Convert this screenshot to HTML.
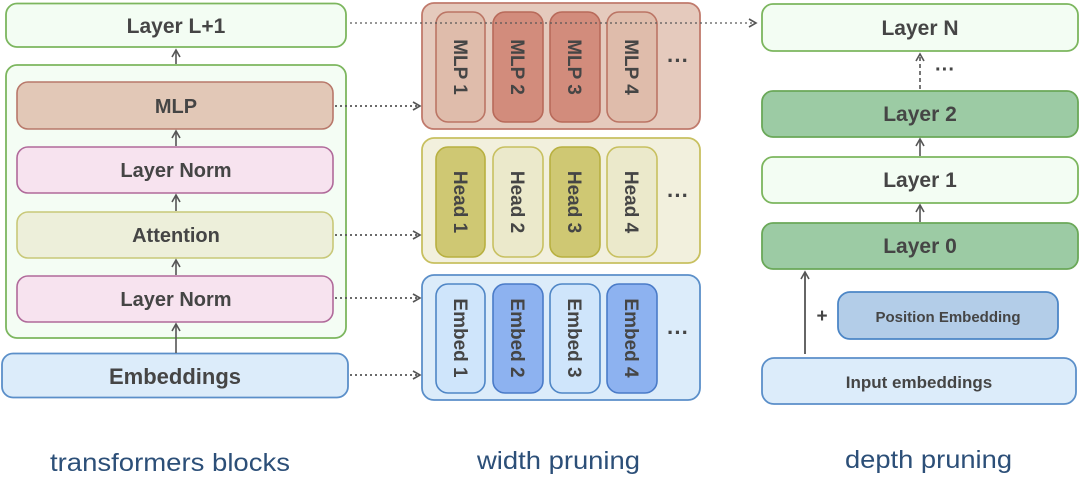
<!DOCTYPE html>
<html><head><meta charset="utf-8"><style>
html,body{margin:0;padding:0;background:#fff;}
svg{display:block;}
text{font-family:"Liberation Sans",Arial,sans-serif;font-weight:bold;fill:#454545;}
.lbl{font-weight:normal;fill:#2c4f78;font-size:25px;}
</style></head><body>
<svg width="1080" height="481" viewBox="0 0 1080 481" xmlns="http://www.w3.org/2000/svg">
<defs>
<marker id="a" markerWidth="10" markerHeight="10" refX="8" refY="5" orient="auto" markerUnits="userSpaceOnUse">
<path d="M1,1 L8,5 L1,9" fill="none" stroke="#555" stroke-width="1.6"/></marker>
</defs>
<!-- LEFT -->
<rect x="6" y="3.5" width="340" height="43.5" rx="11" fill="#f3fdf3" stroke="#7cb65e" stroke-width="1.8"/>
<text x="176" y="33" font-size="21" text-anchor="middle">Layer L+1</text>
<rect x="6" y="65" width="340" height="273" rx="11" fill="#f4fdf4" stroke="#7cb65e" stroke-width="1.8"/>
<rect x="17" y="82" width="316" height="47" rx="11" fill="#e2c8b7" stroke="#b8786a" stroke-width="1.6"/>
<text x="176" y="113" font-size="20" text-anchor="middle">MLP</text>
<rect x="17" y="147" width="316" height="46" rx="11" fill="#f7e3ef" stroke="#b06a9a" stroke-width="1.6"/>
<text x="176" y="177" font-size="20" text-anchor="middle">Layer Norm</text>
<rect x="17" y="212" width="316" height="46" rx="11" fill="#edefda" stroke="#c8c878" stroke-width="1.6"/>
<text x="176" y="242" font-size="20" text-anchor="middle">Attention</text>
<rect x="17" y="276" width="316" height="46" rx="11" fill="#f7e3ef" stroke="#b06a9a" stroke-width="1.6"/>
<text x="176" y="306" font-size="20" text-anchor="middle">Layer Norm</text>
<rect x="2" y="353.5" width="346" height="44" rx="11" fill="#dcecfa" stroke="#5b8fc9" stroke-width="1.8"/>
<text x="175" y="384" font-size="22" text-anchor="middle">Embeddings</text>
<g stroke="#555" stroke-width="1.6" fill="none">
<line x1="176" y1="64" x2="176" y2="50" marker-end="url(#a)"/>
<line x1="176" y1="146" x2="176" y2="131" marker-end="url(#a)"/>
<line x1="176" y1="211" x2="176" y2="195" marker-end="url(#a)"/>
<line x1="176" y1="275" x2="176" y2="260" marker-end="url(#a)"/>
<line x1="176" y1="353" x2="176" y2="324" marker-end="url(#a)"/>
</g>
<!-- MIDDLE -->
<rect x="422" y="3" width="278" height="126" rx="12" fill="#e5cabd" stroke="#c07a6c" stroke-width="1.8"/>
<rect x="436" y="12" width="49" height="110" rx="12" fill="#dfbcab" stroke="#bb7565" stroke-width="1.6"/>
<rect x="493" y="12" width="50" height="110" rx="12" fill="#d28c7c" stroke="#b86a5a" stroke-width="1.6"/>
<rect x="550" y="12" width="50" height="110" rx="12" fill="#d28c7c" stroke="#b86a5a" stroke-width="1.6"/>
<rect x="607" y="12" width="50" height="110" rx="12" fill="#dfbcab" stroke="#bb7565" stroke-width="1.6"/>
<rect x="422" y="138" width="278" height="125" rx="12" fill="#f2f0dd" stroke="#c8c060" stroke-width="1.8"/>
<rect x="436" y="147" width="49" height="110" rx="12" fill="#cfc873" stroke="#b8b040" stroke-width="1.6"/>
<rect x="493" y="147" width="50" height="110" rx="12" fill="#ebe9cb" stroke="#c8c060" stroke-width="1.6"/>
<rect x="550" y="147" width="50" height="110" rx="12" fill="#cfc873" stroke="#b8b040" stroke-width="1.6"/>
<rect x="607" y="147" width="50" height="110" rx="12" fill="#ebe9cb" stroke="#c8c060" stroke-width="1.6"/>
<rect x="422" y="275" width="278" height="125" rx="12" fill="#dcecfa" stroke="#5b8fc9" stroke-width="1.8"/>
<rect x="436" y="284" width="49" height="109" rx="12" fill="#cfe5fb" stroke="#4f86c6" stroke-width="1.6"/>
<rect x="493" y="284" width="50" height="109" rx="12" fill="#8db2f0" stroke="#4a7bc8" stroke-width="1.6"/>
<rect x="550" y="284" width="50" height="109" rx="12" fill="#cfe5fb" stroke="#4f86c6" stroke-width="1.6"/>
<rect x="607" y="284" width="50" height="109" rx="12" fill="#8db2f0" stroke="#4a7bc8" stroke-width="1.6"/>
<g font-size="19">
<text transform="translate(454,67) rotate(90)" text-anchor="middle">MLP 1</text>
<text transform="translate(511,67) rotate(90)" text-anchor="middle">MLP 2</text>
<text transform="translate(568,67) rotate(90)" text-anchor="middle">MLP 3</text>
<text transform="translate(625,67) rotate(90)" text-anchor="middle">MLP 4</text>
<text transform="translate(454,202) rotate(90)" text-anchor="middle">Head 1</text>
<text transform="translate(511,202) rotate(90)" text-anchor="middle">Head 2</text>
<text transform="translate(568,202) rotate(90)" text-anchor="middle">Head 3</text>
<text transform="translate(625,202) rotate(90)" text-anchor="middle">Head 4</text>
<text transform="translate(454,338) rotate(90)" text-anchor="middle">Embed 1</text>
<text transform="translate(511,338) rotate(90)" text-anchor="middle">Embed 2</text>
<text transform="translate(568,338) rotate(90)" text-anchor="middle">Embed 3</text>
<text transform="translate(625,338) rotate(90)" text-anchor="middle">Embed 4</text>
</g>
<g font-size="22">
<text x="678" y="68" text-anchor="middle">···</text>
<text x="678" y="203" text-anchor="middle">···</text>
<text x="678" y="340" text-anchor="middle">···</text>
</g>
<g stroke="#555" stroke-width="1.8" fill="none" stroke-dasharray="2 3">
<line x1="350" y1="23" x2="756" y2="23" marker-end="url(#a)" stroke-opacity="0.7"/>
<line x1="335" y1="106" x2="420" y2="106" marker-end="url(#a)"/>
<line x1="335" y1="235" x2="420" y2="235" marker-end="url(#a)"/>
<line x1="335" y1="298" x2="420" y2="298" marker-end="url(#a)"/>
<line x1="350" y1="375" x2="420" y2="375" marker-end="url(#a)"/>
</g>
<!-- RIGHT -->
<rect x="762" y="4" width="316" height="47" rx="11" fill="#f3fdf3" stroke="#7cb65e" stroke-width="1.8"/>
<text x="920" y="35" font-size="21" text-anchor="middle">Layer N</text>
<rect x="762" y="91" width="316" height="46" rx="11" fill="#9ccba4" stroke="#6aa858" stroke-width="1.8"/>
<text x="920" y="121" font-size="21" text-anchor="middle">Layer 2</text>
<rect x="762" y="157" width="316" height="46" rx="11" fill="#f3fdf3" stroke="#7cb65e" stroke-width="1.8"/>
<text x="920" y="187" font-size="21" text-anchor="middle">Layer 1</text>
<rect x="762" y="223" width="316" height="46" rx="11" fill="#9ccba4" stroke="#6aa858" stroke-width="1.8"/>
<text x="920" y="253" font-size="21" text-anchor="middle">Layer 0</text>
<text x="945" y="76" font-size="20" text-anchor="middle">···</text>
<rect x="838" y="292" width="220" height="47" rx="12" fill="#b3cde8" stroke="#4c86c6" stroke-width="1.8"/>
<text x="948" y="322" font-size="15" text-anchor="middle">Position Embedding</text>
<text x="822" y="322" font-size="19" text-anchor="middle">+</text>
<rect x="762" y="358" width="314" height="46" rx="12" fill="#dcecfa" stroke="#5b8fc9" stroke-width="1.8"/>
<text x="919" y="388" font-size="17" text-anchor="middle">Input embeddings</text>
<g stroke="#555" stroke-width="1.6" fill="none">
<line x1="920" y1="89" x2="920" y2="54" stroke-dasharray="4 3" marker-end="url(#a)"/>
<line x1="920" y1="156" x2="920" y2="139" marker-end="url(#a)"/>
<line x1="920" y1="222" x2="920" y2="205" marker-end="url(#a)"/>
<line x1="805" y1="354" x2="805" y2="272" stroke-width="1.8" marker-end="url(#a)"/>
</g>
<!-- labels -->
<text class="lbl" x="50" y="471" textLength="240" lengthAdjust="spacingAndGlyphs">transformers blocks</text>
<text class="lbl" x="477" y="469" textLength="163" lengthAdjust="spacingAndGlyphs">width pruning</text>
<text class="lbl" x="845" y="468" textLength="167" lengthAdjust="spacingAndGlyphs">depth pruning</text>
</svg>
</body></html>
